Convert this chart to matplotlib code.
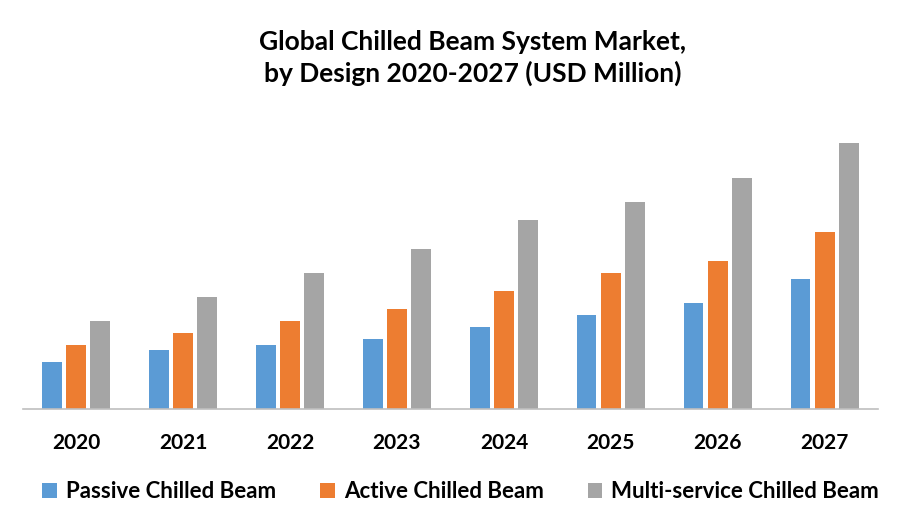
import matplotlib.pyplot as plt
import numpy as np

years = ['2020', '2021', '2022', '2023', '2024', '2025', '2026', '2027']
passive = [47, 59, 64, 70, 82, 94, 106, 130]
active = [64, 76, 88, 100, 118, 136, 148, 177]
multi = [88, 112, 136, 160, 189, 207, 231, 266]

series = ['Passive Chilled Beam', 'Active Chilled Beam', 'Multi-service Chilled Beam']
colors = ['#5B9BD5', '#ED7D31', '#A5A5A5']

plt.rcParams['font.family'] = ['Lato', 'DejaVu Sans']

fig = plt.figure(figsize=(9, 5.25), dpi=100)
ax = fig.add_axes([0.025, 0.221, 0.951, 0.571])

x = np.arange(len(years))
w = 0.18
for i, (vals, name, c) in enumerate(zip([passive, active, multi], series, colors)):
    ax.bar(x + (i - 1) * 0.225, vals, w, color=c, label=name)

ax.set_xlim(-0.5, len(years) - 0.5)
ax.set_ylim(0, 300)
ax.set_yticks([])
for s in ['top', 'right', 'left']:
    ax.spines[s].set_visible(False)
ax.spines['bottom'].set_color('#BFBFBF')
ax.spines['bottom'].set_linewidth(1.2)
ax.set_xticks(x)
ax.set_xticklabels(years, fontsize=15, fontweight='bold')
ax.tick_params(axis='x', length=0, pad=17)

fig.text(0.525, 0.89, 'Global Chilled Beam System Market,\nby Design 2020-2027 (USD Million)',
         ha='center', va='center', fontsize=19, fontweight='bold', linespacing=1.3)

fig.legend(loc='center', bbox_to_anchor=(0.512, 0.064), ncol=3, frameon=False,
           prop={'size': 16, 'weight': 'bold'}, handlelength=0.65, handleheight=0.65,
           handletextpad=0.4, columnspacing=2.0)

fig.savefig('out.png')
